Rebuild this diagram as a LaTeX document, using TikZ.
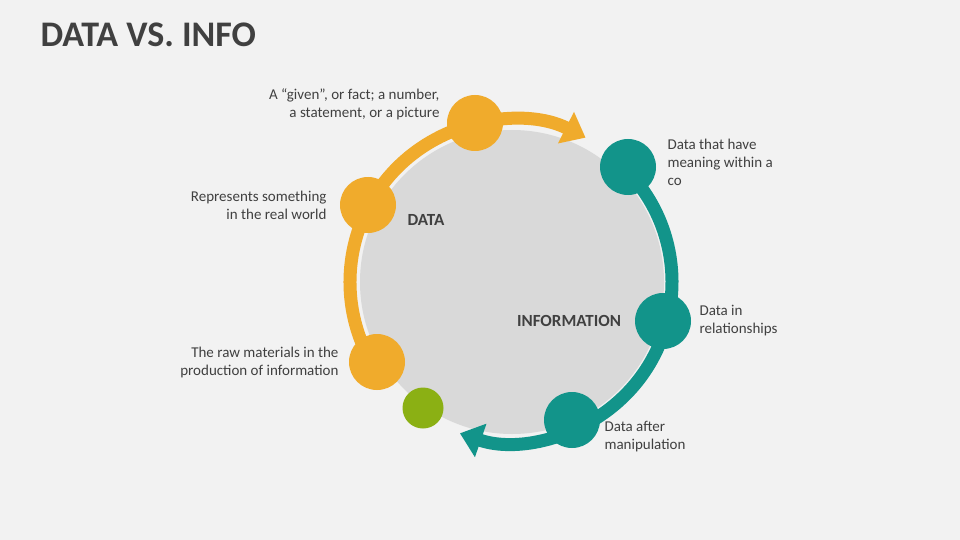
\documentclass[tikz,border=0pt]{standalone}
\usepackage{fontspec}
\setmainfont{Carlito}
\usetikzlibrary{arrows.meta}
\definecolor{bg}{HTML}{F2F2F2}
\definecolor{gr}{HTML}{D9D9D9}
\definecolor{org}{HTML}{F0AB2C}
\definecolor{tea}{HTML}{12948A}
\definecolor{grn}{HTML}{8BB014}
\definecolor{txt}{HTML}{404040}
\begin{document}
\begin{tikzpicture}[x=1pt,y=-1pt,
  dot/.style={circle,inner sep=0pt,minimum size=56pt},
  lbl/.style={text=txt,font=\fontsize{15}{18}\selectfont,align=left,anchor=west},
  lblr/.style={text=txt,font=\fontsize{15}{18}\selectfont,align=right,anchor=east},
  band/.style={line width=13pt,-{Triangle[width=34pt,length=22pt]}}]
\fill[bg] (0,0) rectangle (960,540);
\useasboundingbox (0,0) rectangle (960,540);
\node[anchor=west,text=txt,font=\bfseries\fontsize{36}{42}\selectfont] (title) at (37,35) {DATA VS. INFO};
\coordinate (c) at (512,282);
\fill[gr] (c) circle (152);
\draw[org,band] (c) ++(146:162) arc[start angle=146,end angle=297,radius=162];
\draw[tea,band] (c) ++(-44:160) arc[start angle=-44,end angle=109,radius=160];
\node[dot,fill=org] (o1) at (475,123) {};
\node[dot,fill=org] (o2) at (368,205) {};
\node[dot,fill=org] (o3) at (377,362) {};
\node[dot,fill=tea] (t1) at (628,167) {};
\node[dot,fill=tea] (t2) at (663,321) {};
\node[dot,fill=tea] (t3) at (572,420) {};
\node[circle,inner sep=0pt,minimum size=41pt,fill=grn] (g) at (423,408) {};
\node[text=txt,font=\bfseries\fontsize{17}{20}\selectfont] (data) at (426,220) {DATA};
\node[text=txt,font=\bfseries\fontsize{17}{20}\selectfont] (info) at (569,321) {INFORMATION};
\node[lblr] (l1) at (443,104) {A “given”, or fact; a number,\\a statement, or a picture};
\node[lblr] (l2) at (330,205) {Represents something\\in the real world};
\node[lblr] (l3) at (342,362) {The raw materials in the\\production of information};
\node[lbl] (r1) at (664,162) {Data that have\\meaning within a\\co};
\node[lbl] (r2) at (696,321) {Data in\\relationships};
\node[lbl] (r3) at (601,437) {Data after\\manipulation};
\end{tikzpicture}
\end{document}
